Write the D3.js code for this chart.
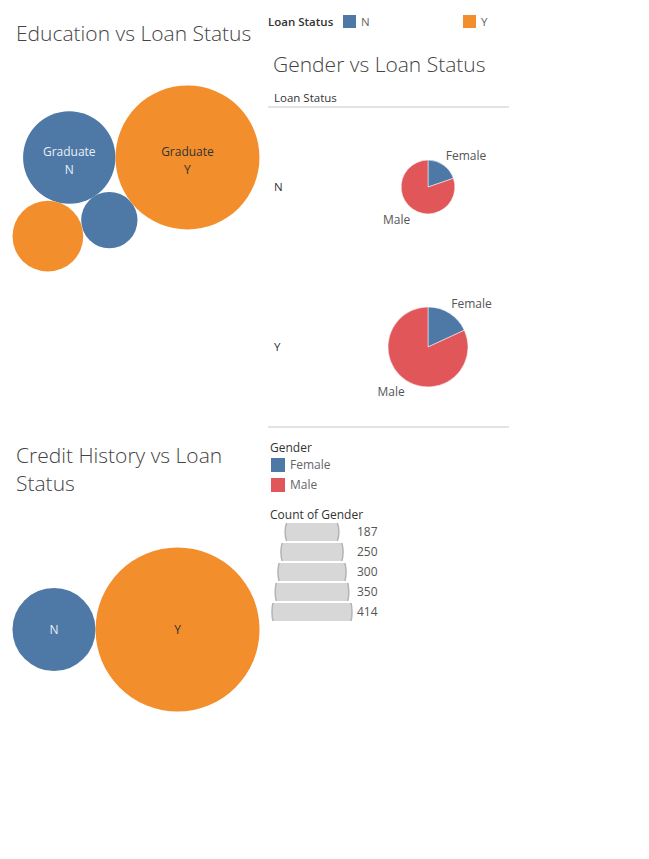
<!DOCTYPE html>
<html>
<head>
<meta charset="utf-8">
<script src="https://cdn.jsdelivr.net/npm/d3@7"></script>
<style>
  body { margin: 0; background: #fff; }
  svg text { font-family: "Open Sans", "Noto Sans", sans-serif; }
  .title { font-weight: 300; font-size: 21px; fill: #444; }
</style>
</head>
<body>
<svg id="chart" width="649" height="859"></svg>
<script>
/* Loan dataset dashboard: education / gender / credit history vs loan status */

const loanStatus = ['N', 'Y'];
const educationCats = ['Graduate', 'Not Graduate'];
const eduCountN = [140, 52];   // count of loans, status N
const eduCountY = [340, 82];   // count of loans, status Y

const genders = ['Female', 'Male'];
const genderCountN = [37, 150];
const genderCountY = [75, 339];

const creditSum = [97, 378];   // SUM(Credit History) for N, Y

const sizeLegendValues = [187, 250, 300, 350, 414];

const svg = d3.select('#chart');

const statusColor = d3.scaleOrdinal(loanStatus, ['#4e79a7', '#f28e2b']);
const genderColor = d3.scaleOrdinal(genders, ['#4e79a7', '#e15759']);
const labelColor = { N: '#e8eef5', Y: '#333' };

// ---------- top legend ----------
const topLeg = svg.append('g').attr('transform', 'translate(268,0)');
topLeg.append('text').attr('x', 0).attr('y', 26)
  .attr('font-size', 11.5).attr('font-weight', 600).attr('fill', '#333')
  .text('Loan Status');
const legX = d3.scalePoint(loanStatus, [75, 195]);
loanStatus.forEach(s => {
  topLeg.append('rect').attr('x', legX(s)).attr('y', 15).attr('width', 13).attr('height', 13)
    .attr('fill', statusColor(s));
  topLeg.append('text').attr('x', legX(s) + 18).attr('y', 26)
    .attr('font-size', 11.5).attr('fill', '#666').text(s);
});

// ---------- helper: packed bubbles, fitted around a pane centre ----------
function packBubbles(nodes, rScale, cx, cy, alignA, alignB) {
  nodes.forEach(d => d.r = rScale(d.value));
  d3.packSiblings(nodes);
  // rotate so that alignA -> alignB is horizontal (Tableau keeps the two big marks side by side)
  if (alignA && alignB) {
    const a = Math.atan2(alignB.y - alignA.y, alignB.x - alignA.x);
    const c = Math.cos(-a), s = Math.sin(-a);
    nodes.forEach(d => {
      const x = d.x, y = d.y;
      d.x = x * c - y * s;
      d.y = x * s + y * c;
    });
  }
  const x0 = d3.min(nodes, d => d.x - d.r), x1 = d3.max(nodes, d => d.x + d.r);
  const y0 = d3.min(nodes, d => d.y - d.r), y1 = d3.max(nodes, d => d.y + d.r);
  const dx = cx - (x0 + x1) / 2, dy = cy - (y0 + y1) / 2;
  nodes.forEach(d => { d.x += dx; d.y += dy; });
  return nodes;
}

function drawBubbles(g, nodes, labelFn) {
  g.selectAll('circle')
    .data(nodes)
    .join('circle')
    .attr('cx', d => d.x)
    .attr('cy', d => d.y)
    .attr('r', d => d.r)
    .attr('fill', d => statusColor(d.status));

  const lab = g.selectAll('text')
    .data(nodes.filter(d => d.r > 40))
    .join('text')
    .attr('x', d => d.x)
    .attr('y', d => d.y)
    .attr('text-anchor', 'middle')
    .attr('font-size', 12)
    .attr('fill', d => labelColor[d.status]);
  lab.each(function (d) {
    const lines = labelFn(d);
    const t = d3.select(this);
    lines.forEach((l, i) => {
      t.append('tspan').attr('x', d.x)
        .attr('dy', i === 0 ? (0.4 - (lines.length - 1) * 0.55) + 'em' : '1.5em')
        .text(l);
    });
  });
}

// ---------- Education vs Loan Status ----------
svg.append('text').attr('class', 'title').attr('x', 16).attr('y', 41).text('Education vs Loan Status');

const eduR = d3.scaleSqrt().domain([0, d3.max(eduCountY)]).range([0, 72]);
// order chosen so the sibling packing reproduces Tableau's arrangement
const eduNodes = [
  { edu: educationCats[1], status: 'N', value: eduCountN[1] },
  { edu: educationCats[0], status: 'N', value: eduCountN[0] },
  { edu: educationCats[0], status: 'Y', value: eduCountY[0] },
  { edu: educationCats[1], status: 'Y', value: eduCountY[1] }
];
packBubbles(eduNodes, eduR, 136, 178.5, eduNodes[1], eduNodes[2]);
drawBubbles(svg.append('g'), eduNodes, d => [d.edu, d.status]);

// ---------- Gender vs Loan Status ----------
svg.append('text').attr('class', 'title').attr('x', 273).attr('y', 72).text('Gender vs Loan Status');

svg.append('text').attr('x', 274).attr('y', 102)
  .attr('font-size', 11.5).attr('fill', '#333').text('Loan Status');
const rowY = d3.scaleBand(loanStatus, [107, 427]);
svg.append('line').attr('x1', 268).attr('x2', 509).attr('y1', rowY.range()[0]).attr('y2', rowY.range()[0])
  .attr('stroke', '#c8c8c8');
svg.append('line').attr('x1', 268).attr('x2', 509).attr('y1', rowY.range()[1]).attr('y2', rowY.range()[1])
  .attr('stroke', '#c8c8c8');

const pieR = d3.scaleSqrt().domain([0, d3.max(sizeLegendValues)]).range([0, 40]);
const pie = d3.pie().sort(null).value(d => d.value);
const pieRows = [
  { status: 'N', values: genders.map((g, i) => ({ gender: g, value: genderCountN[i] })) },
  { status: 'Y', values: genders.map((g, i) => ({ gender: g, value: genderCountY[i] })) }
];

pieRows.forEach(row => {
  const cy = rowY(row.status) + rowY.bandwidth() / 2;
  const cx = 428;
  const total = d3.sum(row.values, d => d.value);
  const r = pieR(total);
  svg.append('text').attr('x', 274).attr('y', cy).attr('dy', '0.35em')
    .attr('font-size', 11.5).attr('fill', '#333').text(row.status);

  const g = svg.append('g').attr('transform', `translate(${cx},${cy})`);
  const arcs = pie(row.values);
  g.selectAll('path')
    .data(arcs)
    .join('path')
    .attr('d', d3.arc().innerRadius(0).outerRadius(r))
    .attr('fill', d => genderColor(d.data.gender))
    .attr('stroke', '#fff')
    .attr('stroke-width', 0.5);

  const mid = d => (d.startAngle + d.endAngle) / 2;
  g.selectAll('text')
    .data(arcs)
    .join('text')
    .attr('x', d => Math.sin(mid(d)) * (r + 7) + (Math.sin(mid(d)) > 0 ? -2 : 2))
    .attr('y', d => -Math.cos(mid(d)) * (r + 8))
    .attr('dy', d => Math.cos(mid(d)) > 0 ? '0.1em' : '0.7em')
    .attr('text-anchor', d => Math.sin(mid(d)) > 0 ? 'start' : 'end')
    .attr('font-size', 12)
    .attr('fill', '#555')
    .text(d => d.data.gender);
});

// ---------- Gender legend ----------
svg.append('text').attr('x', 270).attr('y', 452)
  .attr('font-size', 12).attr('fill', '#333').text('Gender');
const gLegY = d3.scalePoint(genders, [465, 485]);
genders.forEach(gd => {
  svg.append('rect').attr('x', 271).attr('y', gLegY(gd) - 7).attr('width', 14).attr('height', 14)
    .attr('fill', genderColor(gd));
  svg.append('text').attr('x', 290).attr('y', gLegY(gd)).attr('dy', '0.35em')
    .attr('font-size', 12).attr('fill', '#666').text(gd);
});

// ---------- Size legend ----------
svg.append('text').attr('x', 270).attr('y', 519)
  .attr('font-size', 12).attr('fill', '#333').text('Count of Gender');
const sLegY = d3.scalePoint(sizeLegendValues, [532, 612]);
const defs = svg.append('defs');
sizeLegendValues.forEach((v, i) => {
  const cy = sLegY(v);
  defs.append('clipPath').attr('id', 'band' + i)
    .append('rect').attr('x', 260).attr('y', cy - 9).attr('width', 110).attr('height', 18);
  svg.append('circle').attr('cx', 312).attr('cy', cy).attr('r', pieR(v))
    .attr('fill', '#d7d7d7').attr('stroke', '#b4b4b4').attr('stroke-width', 1.5)
    .attr('clip-path', `url(#band${i})`);
  svg.append('text').attr('x', 357).attr('y', cy).attr('dy', '0.35em')
    .attr('font-size', 12).attr('fill', '#555').text(v);
});

// ---------- Credit History vs Loan Status ----------
const ct = svg.append('text').attr('class', 'title').attr('x', 16).attr('y', 463);
ct.append('tspan').attr('x', 16).text('Credit History vs Loan');
ct.append('tspan').attr('x', 16).attr('dy', 28).text('Status');

const creditR = d3.scaleSqrt().domain([0, d3.max(creditSum)]).range([0, 82]);
const creditNodes = loanStatus.map((s, i) => ({ status: s, value: creditSum[i] }));
packBubbles(creditNodes, creditR, 136, 629.5);
drawBubbles(svg.append('g'), creditNodes, d => [d.status]);
</script>
</body>
</html>
